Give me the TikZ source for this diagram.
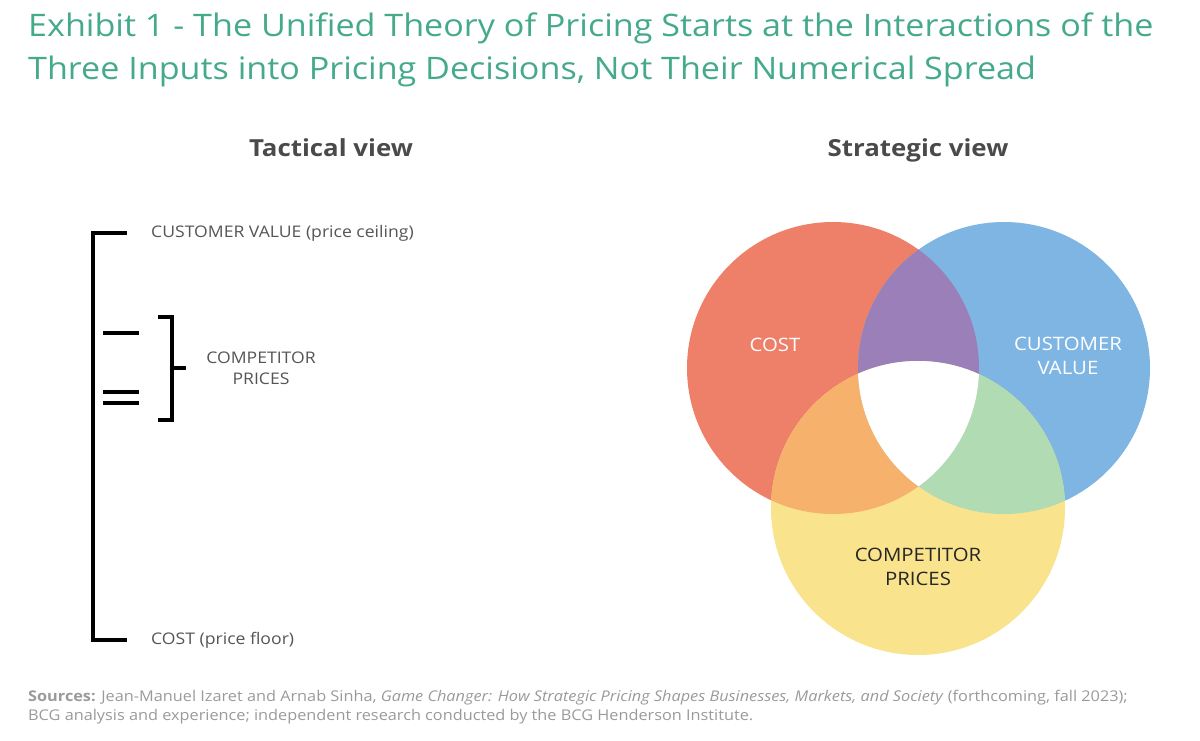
\documentclass[tikz,border=0pt]{standalone}
\usepackage{fontspec}
\setmainfont{Open Sans}[FakeStretch=1.1]
\definecolor{titleteal}{HTML}{45AA8C}
\definecolor{headgray}{HTML}{4A4A4A}
\definecolor{labelgray}{HTML}{555555}
\definecolor{notegray}{HTML}{9A9A9A}
\definecolor{costred}{HTML}{EE7F68}
\definecolor{valueblue}{HTML}{7EB5E2}
\definecolor{compyellow}{HTML}{F9E38D}
\definecolor{mixpurple}{HTML}{9B7FB9}
\definecolor{mixorange}{HTML}{F6B16C}
\definecolor{mixgreen}{HTML}{B1DBB3}
\tikzset{
  title/.style={anchor=base west,inner sep=0,text=titleteal,font=\fontsize{31}{36}\selectfont},
  head/.style={anchor=base,inner sep=0,text=headgray,font=\fontsize{23.5}{28}\selectfont\bfseries},
  lbl/.style={inner sep=0,text=labelgray,font=\fontsize{16}{21}\selectfont},
  venn/.style={inner sep=0,align=center,font=\fontsize{18.5}{24}\selectfont},
  note/.style={anchor=base west,inner sep=0,text=notegray,font=\fontsize{14.8}{18}\selectfont},
  bar/.style={line width=3.2pt}
}
\begin{document}
\begin{tikzpicture}[x=1pt,y=-1pt]
\useasboundingbox (0,0) rectangle (1200,741);
% title
\node[title] (t1) at (28,37) {Exhibit 1 - The Unified Theory of Pricing Starts at the Interactions of the};
\node[title] (t2) at (28,80) {Three Inputs into Pricing Decisions, Not Their Numerical Spread};
\node[head] (h1) at (331,157) {Tactical view};
\node[head] (h2) at (918,157) {Strategic view};
% tactical view
\draw[bar] (127,233) -- (93,233) -- (93,640) -- (127,640);
\draw[bar] (103,333) -- (139,333);
\draw[bar] (103,392) -- (139,392);
\draw[bar] (103,403) -- (139,403);
\draw[bar] (158,317) -- (172,317) -- (172,420) -- (158,420);
\draw[bar] (172,368) -- (186,368);
\node[lbl,anchor=west] (l1) at (151,233) {CUSTOMER VALUE (price ceiling)};
\node[lbl,align=center] (l2) at (261,368) {COMPETITOR\\PRICES};
\node[lbl,anchor=west] (l3) at (151,640) {COST (price floor)};
% strategic view
\coordinate (cr) at (833,368);
\coordinate (cb) at (1004,368);
\coordinate (cy) at (918,508);
\fill[costred] (cr) circle[radius=146pt];
\fill[valueblue] (cb) circle[radius=146pt];
\fill[compyellow] (cy) circle[radius=147pt];
\begin{scope}
\clip (cr) circle[radius=146pt];
\fill[mixpurple] (cb) circle[radius=146pt];
\fill[mixorange] (cy) circle[radius=147pt];
\end{scope}
\begin{scope}
\clip (cb) circle[radius=146pt];
\fill[mixgreen] (cy) circle[radius=147pt];
\end{scope}
\begin{scope}
\clip (cr) circle[radius=146pt];
\clip (cb) circle[radius=146pt];
\fill[white] (cy) circle[radius=147pt];
\end{scope}
\node[venn,text=white] (v1) at (775,345) {COST};
\node[venn,text=white] (v2) at (1068,356) {CUSTOMER\\VALUE};
\node[venn,text=black!85] (v3) at (918,567) {COMPETITOR\\PRICES};
% sources
\node[note] (s1) at (28,701) {\textbf{Sources:} Jean-Manuel Izaret and Arnab Sinha, \textit{Game Changer: How Strategic Pricing Shapes Businesses, Markets, and Society} (forthcoming, fall 2023);};
\node[note] (s2) at (28,720) {BCG analysis and experience; independent research conducted by the BCG Henderson Institute.};
\end{tikzpicture}
\end{document}
